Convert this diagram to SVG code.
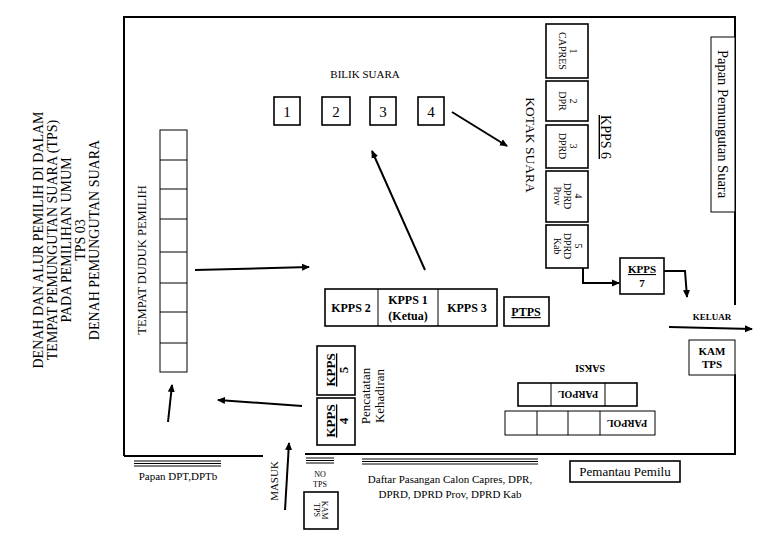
<svg xmlns="http://www.w3.org/2000/svg" width="768" height="543" viewBox="0 0 768 543">
<defs>
<marker id="ah" markerWidth="8" markerHeight="8" refX="7" refY="4" orient="auto" markerUnits="userSpaceOnUse"><path d="M0,0.5 L8,4 L0,7.5 Z" fill="#000"/></marker>
<style>
text{font-family:"Liberation Serif",serif;fill:#000}
.b{fill:#fff;stroke:#000;stroke-width:1.6}
.t{fill:#fff;stroke:#000;stroke-width:1}
.w{fill:none;stroke:#000;stroke-width:2}
.c{fill:none;stroke:#000;stroke-width:2;marker-end:url(#ah)}
.s{font-size:11px}
.m{font-size:13px}
.l{font-size:15px}
</style>
</defs>
<rect width="768" height="543" fill="#fff"/>
<g id="walls">
<polyline class="w" points="124,456 124,17 735,17 735,305"/>
<polyline class="w" points="124,456 263,456"/>
<polyline class="w" points="305,454 735,454 735,374"/>
</g>
<g id="title" font-size="14" text-anchor="middle">
<text transform="translate(43,240) rotate(-90)">DENAH DAN ALUR PEMILIH DI DALAM</text>
<text transform="translate(57,240) rotate(-90)">TEMPAT PEMUNGUTAN SUARA (TPS)</text>
<text transform="translate(71,240) rotate(-90)">PADA PEMILIHAN UMUM</text>
<text transform="translate(85,240) rotate(-90)">TPS 03</text>
<text transform="translate(99,240) rotate(-90)">DENAH PEMUNGUTAN SUARA</text>
</g>
<g id="papan-pemungutan"><rect class="t" x="711" y="37" width="24" height="175"/><text font-size="14.5" text-anchor="middle" transform="translate(718,124) rotate(90)">Papan Pemungutan Suara</text></g>
<g id="kotak-suara" class="s" text-anchor="middle">
<rect class="b" x="546" y="24" width="42" height="54"/><text transform="translate(567,51) rotate(90)" font-size="10"><tspan x="0" y="-3">1</tspan><tspan x="0" y="8">CAPRES</tspan></text>
<rect class="b" x="546" y="81" width="42" height="40"/><text transform="translate(567,101) rotate(90)" font-size="10"><tspan x="0" y="-3">2</tspan><tspan x="0" y="8">DPR</tspan></text>
<rect class="b" x="546" y="125" width="42" height="43"/><text transform="translate(567,146) rotate(90)" font-size="10"><tspan x="0" y="-3">3</tspan><tspan x="0" y="8">DPRD</tspan></text>
<rect class="b" x="546" y="171" width="42" height="51"/><text transform="translate(567,196) rotate(90)" font-size="10"><tspan x="0" y="-8">4</tspan><tspan x="0" y="3">DPRD</tspan><tspan x="0" y="13">Prov</tspan></text>
<rect class="b" x="546" y="225" width="42" height="43"/><text transform="translate(567,246) rotate(90)" font-size="10"><tspan x="0" y="-8">5</tspan><tspan x="0" y="3">DPRD</tspan><tspan x="0" y="13">Kab</tspan></text>
<text font-size="13.5" transform="translate(526,145) rotate(90)">KOTAK SUARA</text>
<text font-size="14" text-decoration="underline" transform="translate(601,137) rotate(90)">KPPS 6</text>
</g>
<g id="kpps7"><rect class="b" x="620" y="258" width="44" height="36"/><text class="s" text-anchor="middle" font-weight="bold"><tspan x="642" y="273" text-decoration="underline">KPPS</tspan><tspan x="642" y="287">7</tspan></text></g>
<g id="bilik" text-anchor="middle">
<text class="s" x="365" y="78">BILIK SUARA</text>
<rect class="b" x="274" y="97" width="26" height="28"/><text class="l" x="287" y="117">1</text>
<rect class="b" x="322" y="97" width="28" height="28"/><text class="l" x="336" y="117">2</text>
<rect class="b" x="370" y="97" width="26" height="28"/><text class="l" x="383" y="117">3</text>
<rect class="b" x="418" y="97" width="26" height="28"/><text class="l" x="431" y="117">4</text>
</g>
<g id="meja-kpps" text-anchor="middle" font-weight="bold" font-size="12">
<rect class="b" x="325" y="289" width="172" height="37"/>
<line x1="378" y1="289" x2="378" y2="326" stroke="#000"/><line x1="438" y1="289" x2="438" y2="326" stroke="#000"/>
<text x="351" y="312">KPPS 2</text>
<text x="408" y="304">KPPS 1</text><text x="408" y="320">(Ketua)</text>
<text x="467" y="312">KPPS 3</text>
</g>
<g id="ptps"><rect class="b" x="504" y="297" width="45" height="29"/><text x="526" y="316" text-anchor="middle" font-weight="bold" font-size="12" text-decoration="underline">PTPS</text></g>
<g id="tempat-duduk">
<rect class="t" x="160" y="130" width="27" height="242"/>
<g stroke="#000"><line x1="160" y1="160" x2="187" y2="160"/><line x1="160" y1="189" x2="187" y2="189"/><line x1="160" y1="219" x2="187" y2="219"/><line x1="160" y1="252" x2="187" y2="252"/><line x1="160" y1="283" x2="187" y2="283"/><line x1="160" y1="312" x2="187" y2="312"/><line x1="160" y1="343" x2="187" y2="343"/></g>
<text font-size="12.5" text-anchor="middle" transform="translate(146,260) rotate(-90)">TEMPAT DUDUK PEMILIH</text>
</g>
<g id="kpps5"><rect class="b" x="317" y="346" width="38" height="49"/><text class="m" font-weight="bold" text-anchor="middle" transform="translate(336,370) rotate(-90)"><tspan x="0" y="-1" text-decoration="underline">KPPS</tspan><tspan x="0" y="12">5</tspan></text></g>
<g id="kpps4"><rect class="b" x="317" y="398" width="38" height="47"/><text class="m" font-weight="bold" text-anchor="middle" transform="translate(336,421) rotate(-90)"><tspan x="0" y="-1" text-decoration="underline">KPPS</tspan><tspan x="0" y="12">4</tspan></text></g>
<g id="pencatatan"><text class="m" text-anchor="middle" transform="translate(370,396) rotate(-90)"><tspan x="0" y="0">Pencatatan</tspan><tspan x="0" y="14">Kehadiran</tspan></text></g>
<g id="papan-dpt"><g stroke="#000"><line x1="134" y1="461" x2="221" y2="461"/><line x1="134" y1="463.5" x2="221" y2="463.5"/><line x1="134" y1="466" x2="221" y2="466"/></g><text class="s" x="178" y="480" text-anchor="middle">Papan DPT,DPTb</text></g>
<g id="masuk"><text class="s" text-anchor="middle" transform="translate(278,481) rotate(-90)">MASUK</text></g>
<g id="no-tps"><g stroke="#000"><line x1="306" y1="458" x2="334" y2="458"/><line x1="306" y1="460.5" x2="334" y2="460.5"/><line x1="306" y1="463" x2="334" y2="463"/></g><text font-size="8" text-anchor="middle"><tspan x="320" y="477">NO</tspan><tspan x="320" y="487">TPS</tspan></text></g>
<g id="kam-tps-masuk"><rect class="b" x="304" y="492" width="34" height="37"/><text font-size="8" text-anchor="middle" transform="translate(321,510) rotate(90)"><tspan x="0" y="-1">KAM</tspan><tspan x="0" y="7">TPS</tspan></text></g>
<g id="daftar"><g stroke="#000"><line x1="362" y1="459" x2="538" y2="459"/><line x1="362" y1="461.5" x2="538" y2="461.5"/><line x1="362" y1="464" x2="538" y2="464"/></g><text class="s" text-anchor="middle"><tspan x="450" y="483">Daftar Pasangan Calon Capres, DPR,</tspan><tspan x="450" y="498">DPRD, DPRD Prov, DPRD Kab</tspan></text></g>
<g id="pemantau"><rect class="b" x="570" y="461" width="110" height="21"/><text class="m" x="625" y="476" text-anchor="middle">Pemantau Pemilu</text></g>
<g id="saksi" text-anchor="middle" font-size="10" font-weight="bold">
<text transform="translate(590,365) rotate(180)">SAKSI</text>
<rect class="b" x="518" y="383" width="119" height="23"/><line x1="551" y1="383" x2="551" y2="406" stroke="#000"/><line x1="605" y1="383" x2="605" y2="406" stroke="#000"/>
<text transform="translate(578,391) rotate(180)">PARPOL</text>
<rect class="t" x="505" y="411" width="150" height="24"/><line x1="537" y1="411" x2="537" y2="435" stroke="#000"/><line x1="568" y1="411" x2="568" y2="435" stroke="#000"/><line x1="600" y1="411" x2="600" y2="435" stroke="#000"/>
<text transform="translate(627,420) rotate(180)">PARPOL</text>
</g>
<g id="keluar"><text x="712" y="320" text-anchor="middle" font-size="9" font-weight="bold">KELUAR</text></g>
<g id="kam-tps-keluar"><rect class="t" x="689" y="340" width="46" height="35"/><text class="s" font-weight="bold" text-anchor="middle"><tspan x="712" y="355">KAM</tspan><tspan x="712" y="368">TPS</tspan></text></g>
<g id="connectors">
<polyline class="c" stroke-width="1.3" points="583,268 583,283 619,283"/>
<polyline class="c" stroke-width="1.3" points="664,271 685,271 687,297"/>
<line class="c" x1="452" y1="112" x2="507" y2="146"/>
<line class="c" x1="425" y1="270" x2="372" y2="151"/>
<line class="c" x1="195" y1="270" x2="309" y2="267"/>
<line class="c" x1="168" y1="422" x2="172" y2="385"/>
<line class="c" x1="302" y1="406" x2="218" y2="400"/>
<line class="c" x1="285" y1="510" x2="289" y2="443"/>
<line class="c" x1="669" y1="327" x2="752" y2="329"/>
</g>
</svg>
